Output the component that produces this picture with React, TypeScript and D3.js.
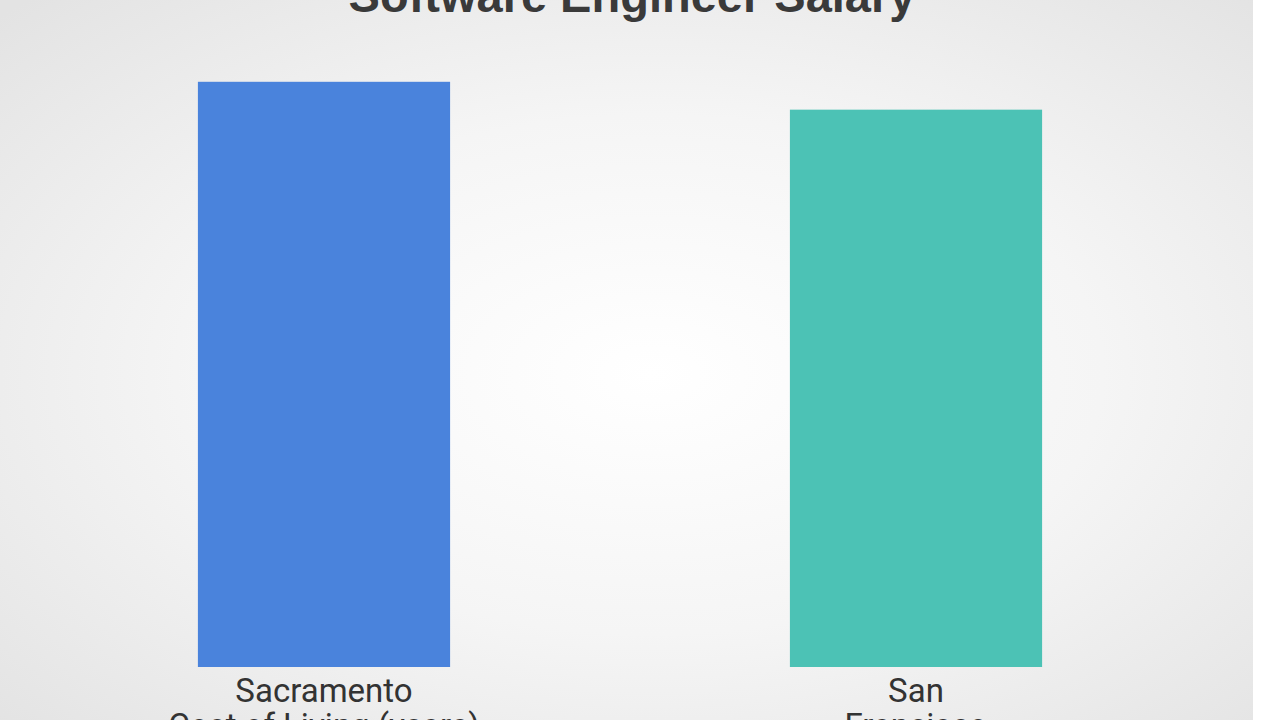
import * as d3 from 'd3';

const cities = ['Sacramento', 'San Francisco'];
const cityLines = [['Sacramento', 'Cost of Living (years)'], ['San', 'Francisco']];
const salaries = [126000, 120000];
const barColors = ['#4a83dc', '#4cc2b5'];
const title = 'Software Engineer Salary';

export default function App() {
  const width = 1253;
  const height = 720;
  const margin = { top: 40, bottom: 53 };

  const x = d3.scaleBand<string>().domain(cities).range([28, 1212]).paddingInner(0.574).paddingOuter(0.287);
  const y = d3.scaleLinear().domain([0, 135000]).range([height - margin.bottom, margin.top]);

  return (
    <div style={{ position: 'fixed', left: 0, top: 0, width: 1280, height: 720, background: '#fff' }}>
      <svg width={width} height={height} style={{ display: 'block' }}>
        <defs>
          <radialGradient id="bg" cx="52%" cy="52%" r="72%">
            <stop offset="0%" stopColor="#ffffff" />
            <stop offset="50%" stopColor="#f5f5f5" />
            <stop offset="100%" stopColor="#e3e3e3" />
          </radialGradient>
        </defs>
        <rect width={width} height={height} fill="url(#bg)" />
        <text x={632} y={12} textAnchor="middle" fontFamily="Liberation Sans, Arial, sans-serif" fontWeight="bold" fontSize={47} fill="#3a3a3a">
          {title}
        </text>
        {cities.map((c, i) => (
          <g key={c}>
            <rect x={x(c)} y={y(salaries[i])} width={x.bandwidth()} height={y(0) - y(salaries[i])} fill={barColors[i]} />
            {cityLines[i].map((line, j) => (
              <text
                key={j}
                x={(x(c) ?? 0) + x.bandwidth() / 2}
                y={y(0) + 35 + j * 35}
                textAnchor="middle"
                fontFamily="Roboto, Liberation Sans, sans-serif"
                fontSize={33}
                fill="#333"
              >
                {line}
              </text>
            ))}
          </g>
        ))}
      </svg>
    </div>
  );
}
